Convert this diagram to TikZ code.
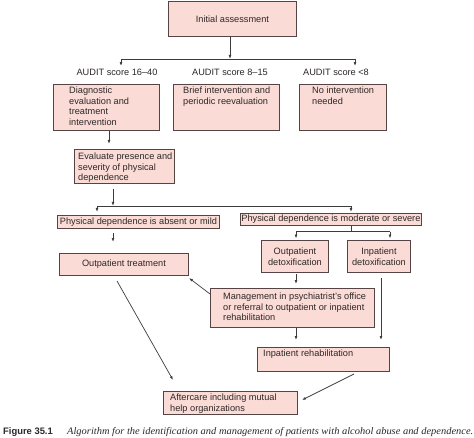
\documentclass[tikz,border=0pt]{standalone}
\usepackage{fontspec}
\setmainfont{Liberation Sans}
\newfontfamily\capserif{Liberation Serif}
\usetikzlibrary{arrows.meta}
\definecolor{boxfill}{RGB}{250,219,214}
\definecolor{boxline}{RGB}{85,68,68}
\definecolor{conn}{RGB}{60,60,60}
\definecolor{ink}{RGB}{45,40,40}
\begin{document}
\begin{tikzpicture}[x=1bp,y=-1bp,
  box/.style={draw=boxline, fill=boxfill, line width=0.9bp, inner sep=0pt, anchor=north west,
    font=\fontsize{9.2bp}{10.7bp}\selectfont, text=ink, align=center},
  txt/.style={font=\fontsize{9.2bp}{10.7bp}\selectfont, inner sep=0pt, align=left, text=ink, anchor=north west},
  lbl/.style={font=\fontsize{9.2bp}{10.7bp}\selectfont, inner sep=0pt, text=ink},
  arr/.style={draw=conn, line width=0.7bp, -{Latex[length=4bp,width=2.8bp]}},
  ln/.style={draw=conn, line width=0.7bp},
]
\useasboundingbox[fill=white] (0,0) rectangle (474,438);

% boxes
\node[box, minimum width=128bp, minimum height=35bp] (init) at (168,1) {Initial assessment};
\node[lbl] (l1) at (117,72) {AUDIT score 16--40};
\node[lbl] (l2) at (230,72) {AUDIT score 8--15};
\node[lbl] (l3) at (336,72) {AUDIT score <8};

\node[box, minimum width=106bp, minimum height=46bp] (A) at (53,84) {};
\node[txt] (At) at (69,86.6) {Diagnostic\\evaluation and\\treatment\\intervention};
\node[box, minimum width=106bp, minimum height=46bp] (B) at (173,84) {};
\node[txt] (Bt) at (183,86.6) {Brief intervention and\\periodic reevaluation};
\node[box, minimum width=87bp, minimum height=46bp] (C) at (299,84) {};
\node[txt] (Ct) at (312,86.6) {No intervention\\needed};

\node[box, minimum width=100bp, minimum height=34bp] (D) at (74,149) {};
\node[txt] (Dt) at (78,152.6) {Evaluate presence and\\severity of physical\\dependence};

\node[box, minimum width=162bp, minimum height=13bp] (E) at (57,215) {Physical dependence is absent or mild};
\node[box, minimum width=181bp, minimum height=12bp] (F) at (240,213) {Physical dependence is moderate or severe};

\node[box, minimum width=129bp, minimum height=22bp] (G) at (59,253) {Outpatient treatment};
\node[box, minimum width=67bp, minimum height=32bp] (H) at (261,240) {Outpatient\\detoxification};
\node[box, minimum width=63bp, minimum height=32bp] (I) at (347,240) {Inpatient\\detoxification};

\node[box, minimum width=164bp, minimum height=39bp] (J) at (210,288) {};
\node[txt] (Jt) at (223,292.6) {Management in psychiatrist's office\\or referral to outpatient or inpatient\\rehabilitation};
\node[box, minimum width=132bp, minimum height=24bp] (K) at (257,347) {};
\node[txt] (Kt) at (263,349.6) {Inpatient rehabilitation};
\node[box, minimum width=134bp, minimum height=23bp] (L) at (163,391) {};
\node[txt] (Lt) at (170,393.6) {Aftercare including mutual\\help organizations};

% connectors, top split
\coordinate (s1) at (230,59);
\coordinate (s1l) at (121,59);
\coordinate (s1r) at (355,59);
\draw[arr] (init.south -| s1) -- (s1);
\draw[ln] (s1l) -- (s1r);
\draw[arr, shorten >=2.5bp] (s1l) -- (l1.north -| s1l);
\draw[arr, shorten >=2.5bp] (s1r) -- (l3.north -| s1r);

% A -> D
\coordinate (ad) at (109,0);
\draw[arr, shorten >=5bp] (A.south -| ad) -- (D.north -| ad);

% D -> split
\coordinate (s2) at (113,206);
\coordinate (s2l) at (97,206);
\coordinate (s2r) at (351,206);
\draw[arr, shorten <=5bp] (D.south -| s2) -- (s2);
\draw[ln] (s2l) -- (s2r);
\draw[arr, shorten >=3bp] (s2l) -- (E.north -| s2l);
\draw[arr, shorten >=1bp] (s2r) -- (F.north -| s2r);

% E -> G
\coordinate (eg) at (113,0);
\draw[arr, shorten <=4bp, shorten >=11bp] (E.south -| eg) -- (G.north -| eg);

% F -> split
\coordinate (s3) at (351,231.5);
\coordinate (s3l) at (296,231.5);
\coordinate (s3r) at (390,231.5);
\draw[ln] (F.south -| s3) -- (s3);
\draw[ln] (s3l) -- (s3r);
\draw[arr, shorten >=1.5bp] (s3l) -- (H.north -| s3l);
\draw[arr, shorten >=1.5bp] (s3r) -- (I.north -| s3r);

% H -> J, J -> K, I -> K
\draw[arr, shorten <=1.5bp, shorten >=4bp] (H.south -| s3l) -- (J.north -| s3l);
\draw[arr, shorten >=7bp] (J.south -| s3l) -- (K.north -| s3l);
\coordinate (ik) at (381,0);
\draw[arr, shorten <=5bp, shorten >=7bp] (I.south -| ik) -- (K.north -| ik);

% J -> G
\coordinate (jg) at (210,294);
\coordinate (gj) at (189,278);
\draw[arr] (jg) -- (gj);

% G -> L, K -> L
\coordinate (gl1) at (117,281);
\coordinate (gl2) at (173,380);
\draw[arr] (gl1) -- (gl2);
\coordinate (kl1) at (354,374);
\coordinate (kl2) at (302,400);
\draw[arr] (kl1) -- (kl2);

% caption
\node[anchor=base west, inner sep=0pt, font=\fontsize{9.4bp}{11bp}\selectfont\bfseries, text=ink] (fig) at (3,434.3) {Figure 35.1};
\node[anchor=base west, inner sep=0pt, text=ink] (cap) at (67,434.3) {\resizebox{406bp}{\height}{\fontsize{10bp}{12bp}\selectfont\capserif\itshape Algorithm for the identification and management of patients with alcohol abuse and dependence.}};
\end{tikzpicture}
\end{document}
